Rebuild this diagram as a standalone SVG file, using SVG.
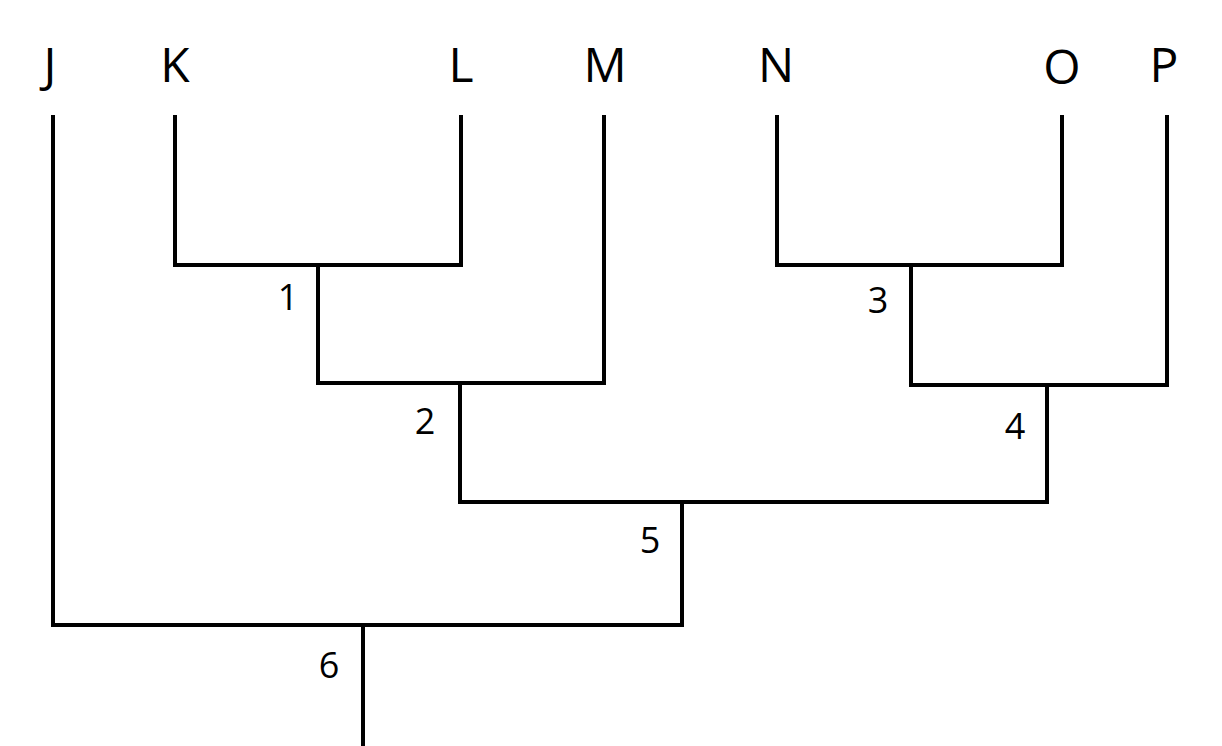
<svg xmlns="http://www.w3.org/2000/svg" width="1222" height="746" viewBox="0 0 1222 746">
<style>
.e{stroke:#000;stroke-width:4;fill:none;stroke-linecap:square}
.t{font-family:"Open Sans","Liberation Sans",sans-serif;font-size:48px;text-anchor:middle}
.n{font-family:"Open Sans","Liberation Sans",sans-serif;font-size:36px;text-anchor:middle}
</style>
<rect width="1222" height="746" fill="#fff"/>
<g id="connectors">
<path class="e" d="M53 117V625H682M175 117V265H461V117M318 265V383H604V117M460 383V502H1047M777 117V265H1062V117M911 265V385H1167V117M1047 385V502M682 502V625M363 625V746"/>
</g>
<g id="leaf-J"><text class="t" x="50" y="82">J</text></g>
<g id="leaf-K"><text class="t" x="175" y="82">K</text></g>
<g id="leaf-L"><text class="t" x="461" y="82">L</text></g>
<g id="leaf-M"><text class="t" x="605" y="82">M</text></g>
<g id="leaf-N"><text class="t" x="776" y="82">N</text></g>
<g id="leaf-O"><text class="t" x="1062" y="84">O</text></g>
<g id="leaf-P"><text class="t" x="1164" y="82">P</text></g>
<g id="node-1"><text class="n" x="288" y="310">1</text></g>
<g id="node-2"><text class="n" x="425" y="434">2</text></g>
<g id="node-3"><text class="n" x="878" y="313">3</text></g>
<g id="node-4"><text class="n" x="1015" y="439">4</text></g>
<g id="node-5"><text class="n" x="650" y="553">5</text></g>
<g id="node-6"><text class="n" x="329" y="678">6</text></g>
</svg>
